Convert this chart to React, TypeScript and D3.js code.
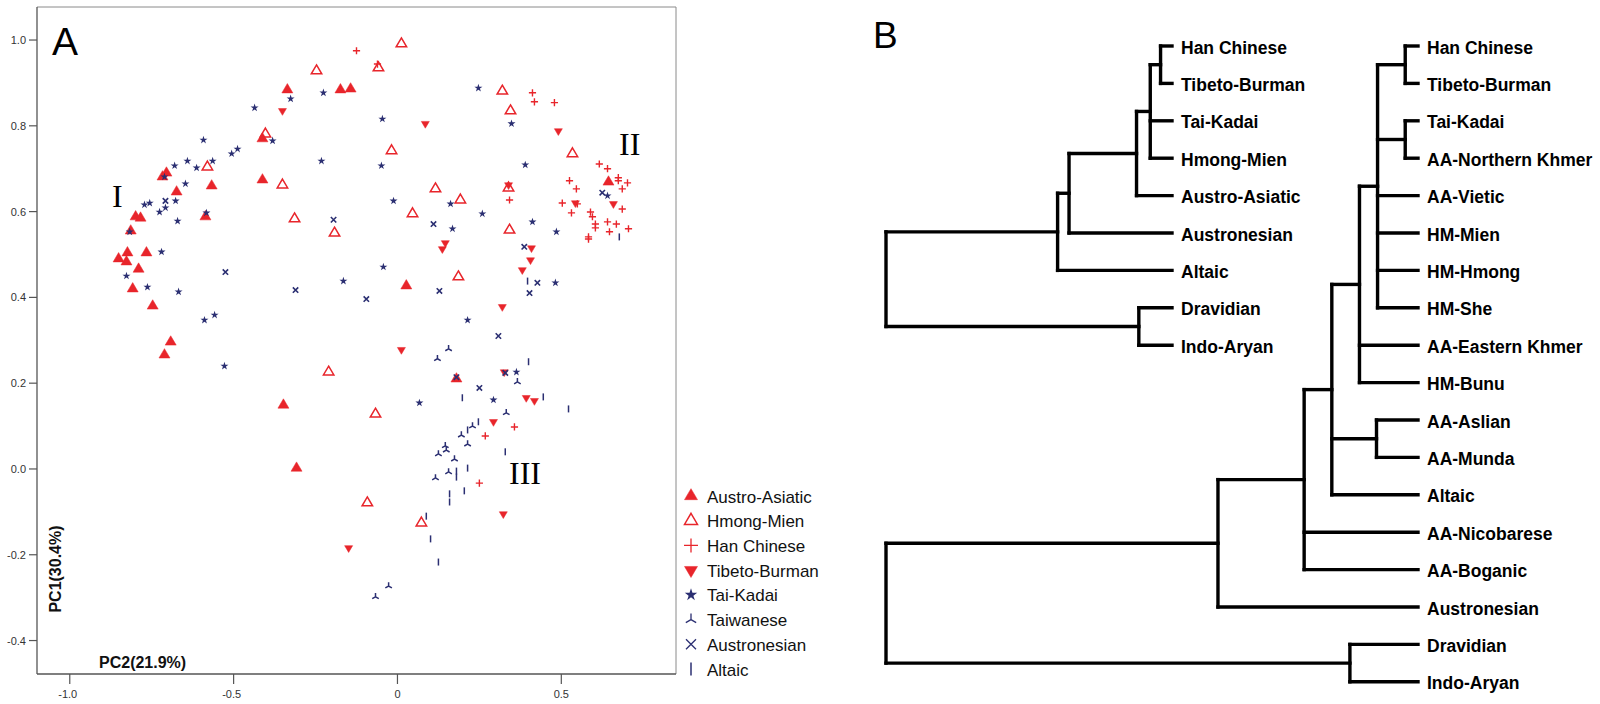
import React from "react";
import * as d3 from "d3";

// ---------- Panel A data: [PC2, PC1] ----------
const austroAsiatic: [number, number][] = [
  [-0.336, 0.884], [-0.174, 0.884], [-0.143, 0.886], [-0.412, 0.77], [-0.412, 0.674],
  [-0.567, 0.66], [-0.705, 0.69], [-0.717, 0.681], [-0.674, 0.646], [-0.799, 0.588],
  [-0.784, 0.585], [-0.586, 0.588], [-0.814, 0.555], [-0.851, 0.49], [-0.824, 0.504],
  [-0.827, 0.483], [-0.766, 0.504], [-0.79, 0.466], [-0.808, 0.42], [-0.747, 0.38],
  [0.027, 0.427], [-0.692, 0.296], [-0.711, 0.266], [-0.348, 0.149], [-0.308, 0.002],
  [0.18, 0.21], [0.644, 0.669],
];
const hmongMien: [number, number][] = [
  [0.012, 0.991], [-0.247, 0.928], [-0.058, 0.935], [-0.403, 0.781], [-0.58, 0.704],
  [-0.351, 0.662], [-0.314, 0.583], [-0.192, 0.55], [-0.018, 0.742], [0.046, 0.595],
  [-0.21, 0.226], [-0.067, 0.128], [-0.092, -0.079], [0.073, -0.126], [0.32, 0.881],
  [0.345, 0.835], [0.534, 0.735], [0.116, 0.653], [0.192, 0.627], [0.342, 0.557],
  [0.186, 0.448], [0.339, 0.655],
];
const hanChinese: [number, number][] = [
  [-0.125, 0.975], [-0.061, 0.944], [0.412, 0.877], [0.418, 0.856], [0.479, 0.854],
  [0.616, 0.711], [0.641, 0.7], [0.525, 0.672], [0.546, 0.653], [0.674, 0.679],
  [0.674, 0.672], [0.702, 0.667], [0.686, 0.653], [0.503, 0.62], [0.549, 0.618],
  [0.342, 0.627], [0.531, 0.597], [0.589, 0.599], [0.595, 0.588], [0.686, 0.606],
  [0.641, 0.576], [0.668, 0.571], [0.604, 0.571], [0.604, 0.562], [0.647, 0.553],
  [0.705, 0.56], [0.583, 0.541], [0.583, 0.536], [0.357, 0.098], [0.268, 0.077],
  [0.25, -0.033],
];
const tibetoBurman: [number, number][] = [
  [-0.351, 0.835], [0.012, 0.278], [0.085, 0.805], [0.491, 0.788], [0.659, 0.618],
  [0.543, 0.62], [0.146, 0.527], [0.137, 0.513], [0.409, 0.515], [0.406, 0.487],
  [0.381, 0.464], [0.32, 0.378], [-0.149, -0.184], [0.326, 0.226], [0.393, 0.166],
  [0.418, 0.159], [0.293, 0.11], [0.323, -0.105], [0.339, 0.662],
];
const taiKadai: [number, number][] = [
  [-0.326, 0.863], [-0.226, 0.877], [-0.436, 0.842], [-0.046, 0.816], [-0.381, 0.765],
  [-0.592, 0.767], [-0.506, 0.735], [-0.488, 0.746], [-0.68, 0.707], [-0.641, 0.718],
  [-0.613, 0.702], [-0.564, 0.718], [-0.232, 0.718], [-0.049, 0.707], [-0.647, 0.665],
  [-0.711, 0.681], [-0.012, 0.625], [-0.772, 0.616], [-0.756, 0.62], [-0.726, 0.599],
  [-0.708, 0.609], [-0.677, 0.625], [-0.671, 0.578], [-0.583, 0.597], [-0.817, 0.553],
  [-0.72, 0.506], [-0.827, 0.45], [-0.763, 0.424], [-0.668, 0.413], [-0.043, 0.471],
  [-0.165, 0.438], [-0.589, 0.347], [-0.558, 0.359], [-0.528, 0.24], [0.247, 0.888],
  [0.348, 0.805], [0.39, 0.709], [0.162, 0.618], [0.259, 0.595], [0.168, 0.56],
  [0.412, 0.576], [0.485, 0.553], [0.482, 0.434], [0.214, 0.347], [0.641, 0.637],
  [0.363, 0.226], [0.293, 0.161], [0.067, 0.154],
];
const taiwanese: [number, number][] = [
  [0.156, 0.28], [0.122, 0.257], [0.366, 0.203], [0.332, 0.131], [0.229, 0.1],
  [0.195, 0.079], [0.214, 0.058], [0.146, 0.054], [0.149, 0.044], [0.125, 0.035],
  [0.174, 0.023], [0.156, -0.007], [0.116, -0.021], [-0.027, -0.273], [-0.067, -0.298],
];
const austronesian: [number, number][] = [
  [-0.525, 0.459], [-0.311, 0.417], [-0.095, 0.396], [-0.195, 0.581], [-0.708, 0.625],
  [0.11, 0.571], [0.387, 0.518], [0.427, 0.434], [0.403, 0.41], [0.128, 0.415],
  [0.308, 0.31], [0.625, 0.644], [0.25, 0.189], [0.329, 0.224], [0.18, 0.214],
];
const altaic: [number, number][] = [
  [0.677, 0.541], [0.397, 0.438], [0.4, 0.25], [0.445, 0.168], [0.522, 0.14],
  [0.198, 0.166], [0.247, 0.11], [0.214, 0.091], [0.329, 0.04], [0.214, 0.002],
  [0.18, -0.005], [0.18, -0.019], [0.204, -0.051], [0.159, -0.058], [0.159, -0.077],
  [0.088, -0.11], [0.101, -0.163], [0.125, -0.217],
];

const groupNames = [
  "Austro-Asiatic", "Hmong-Mien", "Han Chinese", "Tibeto-Burman",
  "Tai-Kadai", "Taiwanese", "Austronesian", "Altaic",
];
const groupData = [
  austroAsiatic, hmongMien, hanChinese, tibetoBurman,
  taiKadai, taiwanese, austronesian, altaic,
];

const xTicks = [-1, -0.5, 0, 0.5];
const xTickLabels = ["-1.0", "-0.5", "0", "0.5"];
const yTicks = [1.0, 0.8, 0.6, 0.4, 0.2, 0.0, -0.2, -0.4];
const yTickLabels = ["1.0", "0.8", "0.6", "0.4", "0.2", "0.0", "-0.2", "-0.4"];

// ---------- Panel B data: dendrograms (branch heights) ----------
type TNode = { name?: string; height: number; children?: TNode[] };
const leaf = (name: string): TNode => ({ name, height: 0 });

const leftTree: TNode = {
  height: 25,
  children: [
    {
      height: 10.0,
      children: [
        {
          height: 9.0,
          children: [
            {
              height: 3.1,
              children: [
                {
                  height: 1.9,
                  children: [
                    { height: 1.0, children: [leaf("Han Chinese"), leaf("Tibeto-Burman")] },
                    leaf("Tai-Kadai"),
                    leaf("Hmong-Mien"),
                  ],
                },
                leaf("Austro-Asiatic"),
              ],
            },
            leaf("Austronesian"),
          ],
        },
        leaf("Altaic"),
      ],
    },
    { height: 2.9, children: [leaf("Dravidian"), leaf("Indo-Aryan")] },
  ],
};

const rightTree: TNode = {
  height: 50,
  children: [
    {
      height: 18.8,
      children: [
        {
          height: 10.7,
          children: [
            {
              height: 8.1,
              children: [
                {
                  height: 5.5,
                  children: [
                    {
                      height: 3.8,
                      children: [
                        { height: 1.2, children: [leaf("Han Chinese"), leaf("Tibeto-Burman")] },
                        { height: 1.2, children: [leaf("Tai-Kadai"), leaf("AA-Northern Khmer")] },
                        leaf("AA-Vietic"),
                        leaf("HM-Mien"),
                        leaf("HM-Hmong"),
                        leaf("HM-She"),
                      ],
                    },
                    leaf("AA-Eastern Khmer"),
                    leaf("HM-Bunu"),
                  ],
                },
                { height: 3.9, children: [leaf("AA-Aslian"), leaf("AA-Munda")] },
                leaf("Altaic"),
              ],
            },
            leaf("AA-Nicobarese"),
            leaf("AA-Boganic"),
          ],
        },
        leaf("Austronesian"),
      ],
    },
    { height: 6.4, children: [leaf("Dravidian"), leaf("Indo-Aryan")] },
  ],
};

// ---------- styling ----------
const RED = "#e8252b";
const NAVY = "#2b2f72";
const markerTypes = ["triUp", "triOpen", "plus", "triDown", "star", "wye", "cross", "bar"];
const markerColors = [RED, RED, RED, RED, NAVY, NAVY, NAVY, NAVY];

function Marker({ type, x, y, color, big }: { type: string; x: number; y: number; color: string; big?: boolean }) {
  const k = big ? 1.25 : 1;
  if (type === "triUp" || type === "triOpen" || type === "triDown") {
    const w = (type === "triDown" ? (big ? 13 : 8) : (big ? 13 : 11)) * (type === "triOpen" && !big ? 0.95 : 1);
    const h = w * 0.85;
    const s = type === "triDown" ? -1 : 1;
    const p = `M0,${(-s * h * 2) / 3}L${w / 2},${(s * h) / 3}L${-w / 2},${(s * h) / 3}Z`;
    return (
      <path
        d={p}
        transform={`translate(${x},${y})`}
        fill={type === "triOpen" ? "none" : color}
        stroke={color}
        strokeWidth={type === "triOpen" ? 1.5 : 0.5}
        strokeLinejoin="miter"
      />
    );
  }
  if (type === "plus") {
    const r = big ? 7 : 3.6;
    return (
      <path d={`M${-r},0H${r}M0,${-r}V${r}`} transform={`translate(${x},${y})`} stroke={color} strokeWidth={big ? 1.3 : 1.4} fill="none" />
    );
  }
  if (type === "star") {
    const p = d3.symbol(d3.symbolStar, big ? 48 : 20)();
    return <path d={p || ""} transform={`translate(${x},${y})`} fill={color} />;
  }
  if (type === "wye") {
    const r = big ? 6 : 3.8;
    const c = Math.cos(Math.PI / 6) * r;
    const s = Math.sin(Math.PI / 6) * r;
    return (
      <path d={`M0,0V${-r}M0,0L${-c},${s}M0,0L${c},${s}`} transform={`translate(${x},${y})`} stroke={color} strokeWidth={big ? 1.3 : 1.5} fill="none" />
    );
  }
  if (type === "cross") {
    const r = big ? 5 : 2.7;
    return (
      <path d={`M${-r},${-r}L${r},${r}M${-r},${r}L${r},${-r}`} transform={`translate(${x},${y})`} stroke={color} strokeWidth={big ? 1.3 : 1.6} fill="none" />
    );
  }
  const r = big ? 6.5 : 3.5;
  return <path d={`M0,${-r}V${r}`} transform={`translate(${x},${y})`} stroke={color} strokeWidth={big ? 1.5 : 1.5} fill="none" />;
  void k;
}

function Dendrogram({ tree, leafX, rootX, top, step }: { tree: TNode; leafX: number; rootX: number; top: number; step: number }) {
  const root = d3.hierarchy<TNode>(tree, (d) => d.children);
  const maxH = tree.height;
  const xs = d3.scaleLinear().domain([maxH, 0]).range([rootX, leafX]);
  const leaves = root.leaves();
  const yPos = new Map<d3.HierarchyNode<TNode>, number>();
  leaves.forEach((l, i) => yPos.set(l, top + i * step));
  root.eachAfter((n) => {
    if (n.children) {
      const ys = n.children.map((c) => yPos.get(c) as number);
      yPos.set(n, (ys[0] + ys[ys.length - 1]) / 2);
    }
  });
  const segs: { x1: number; y1: number; x2: number; y2: number }[] = [];
  root.each((n) => {
    if (!n.children) return;
    const nx = xs(n.data.height);
    const ys = n.children.map((c) => yPos.get(c) as number);
    segs.push({ x1: nx, y1: Math.min(...ys), x2: nx, y2: Math.max(...ys) });
    n.children.forEach((c) => {
      const cy = yPos.get(c) as number;
      segs.push({ x1: nx, y1: cy, x2: xs(c.data.height), y2: cy });
    });
  });
  return (
    <g>
      {segs.map((s, i) => (
        <line key={i} x1={s.x1} y1={s.y1} x2={s.x2} y2={s.y2} stroke="#000" strokeWidth={3.4} strokeLinecap="square" />
      ))}
      {leaves.map((l, i) => (
        <text
          key={"t" + i}
          x={leafX + 9}
          y={(yPos.get(l) as number) + 1.5}
          fontFamily="'Liberation Sans', Arial, sans-serif"
          fontWeight="bold"
          fontSize={17.5}
          dominantBaseline="central"
          fill="#000"
        >
          {l.data.name}
        </text>
      ))}
    </g>
  );
}

export default function App() {
  const x = d3.scaleLinear().domain([-1.1, 0.85]).range([37, 676]);
  const y = d3.scaleLinear().domain([-0.478, 1.077]).range([674, 7]);
  const sans = "'Liberation Sans', Arial, sans-serif";
  const serif = "'Liberation Serif', 'Times New Roman', serif";
  const legendY = d3.scaleLinear().domain([0, 7]).range([496, 669]);

  return (
    <svg width={1600} height={704} style={{ position: "absolute", left: 0, top: 0, background: "#fff" }}>
      <rect x={0} y={0} width={1600} height={704} fill="#fff" />
      {/* Panel A frame */}
      <line x1={37} y1={7} x2={676} y2={7} stroke="#8a8a8a" strokeWidth={1} />
      <line x1={676} y1={7} x2={676} y2={674} stroke="#8a8a8a" strokeWidth={1} />
      <line x1={37} y1={7} x2={37} y2={674} stroke="#555" strokeWidth={1.3} />
      <line x1={37} y1={674} x2={676} y2={674} stroke="#555" strokeWidth={1.3} />
      {yTicks.map((t, i) => (
        <g key={"yt" + i}>
          <line x1={29} x2={37} y1={y(t)} y2={y(t)} stroke="#555" strokeWidth={1.2} />
          <text x={26} y={y(t)} textAnchor="end" dominantBaseline="central" fontFamily={sans} fontSize={11} fill="#333">
            {yTickLabels[i]}
          </text>
        </g>
      ))}
      {xTicks.map((t, i) => (
        <g key={"xt" + i}>
          <line x1={x(t)} x2={x(t)} y1={674} y2={684} stroke="#555" strokeWidth={1.2} />
          <text x={x(t) - (t < 0 ? 2 : 0)} y={698} textAnchor="middle" fontFamily={sans} fontSize={11} fill="#333">
            {xTickLabels[i]}
          </text>
        </g>
      ))}
      {/* points */}
      {groupData.map((pts, gi) =>
        pts.map((p, pi) => (
          <Marker key={gi + "-" + pi} type={markerTypes[gi]} x={x(p[0])} y={y(p[1])} color={markerColors[gi]} />
        ))
      )}
      {/* labels */}
      <text x={52} y={55} fontFamily={sans} fontSize={39} fill="#000">A</text>
      <text x={112} y={207} fontFamily={serif} fontSize={32} fill="#000">I</text>
      <text x={619} y={155} fontFamily={serif} fontSize={32} fill="#000">II</text>
      <text x={509} y={484} fontFamily={serif} fontSize={32} fill="#000">III</text>
      <text x={99} y={668} fontFamily={sans} fontSize={16} fontWeight="bold" fill="#111">PC2(21.9%)</text>
      <text transform="translate(61,569) rotate(-90)" textAnchor="middle" fontFamily={sans} fontSize={16} fontWeight="bold" fill="#111">
        PC1(30.4%)
      </text>
      {/* legend */}
      {groupNames.map((n, i) => (
        <g key={"lg" + i}>
          <Marker type={markerTypes[i]} x={691} y={legendY(i)} color={markerColors[i]} big />
          <text x={707} y={legendY(i) + 1} dominantBaseline="central" fontFamily={sans} fontSize={17} fill="#111">
            {n}
          </text>
        </g>
      ))}
      {/* Panel B */}
      <text x={873} y={48} fontFamily={sans} fontSize={37} fill="#000">B</text>
      <Dendrogram tree={leftTree} leafX={1172} rootX={886} top={46} step={37.4} />
      <Dendrogram tree={rightTree} leafX={1418} rootX={886} top={46} step={37.4} />
    </svg>
  );
}
